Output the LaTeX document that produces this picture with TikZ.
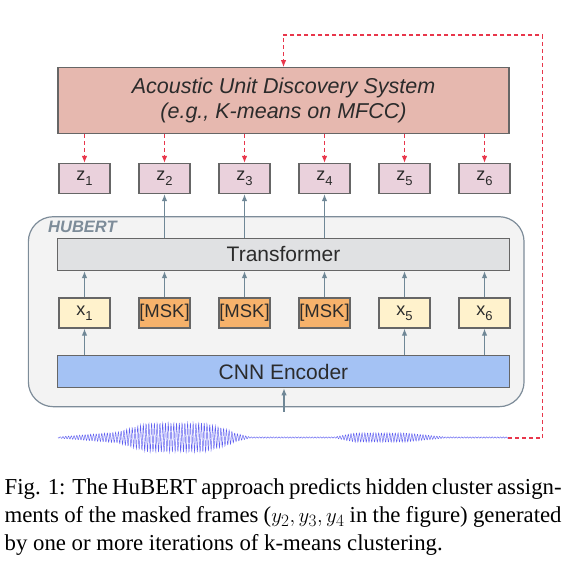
\documentclass[tikz,border=0pt]{standalone}
\usepackage{fontspec}
\setmainfont{Liberation Serif}
\setsansfont{Liberation Sans}
\usepackage{xcolor}
\usepackage{tikz}
\usetikzlibrary{arrows.meta,positioning,calc}

\definecolor{audsfill}{HTML}{E6B8AF}
\definecolor{zfill}{HTML}{EAD1DC}
\definecolor{hubfill}{HTML}{F3F3F3}
\definecolor{hubline}{HTML}{7D8C99}
\definecolor{trfill}{HTML}{E0E1E3}
\definecolor{xfill}{HTML}{FFF2CC}
\definecolor{mskfill}{HTML}{F6B26B}
\definecolor{cnnfill}{HTML}{A4C2F4}
\definecolor{boxline}{HTML}{666666}
\definecolor{uparrow}{HTML}{6F8796}
\definecolor{redline}{HTML}{E8364B}
\definecolor{wavecol}{HTML}{6060F0}
\definecolor{txt}{HTML}{2B2B2B}

\newcommand{\zsub}[1]{\raisebox{-5pt}{\fontsize{13}{13}\selectfont #1}}

\tikzset{
    >={Latex[length=7pt,width=5.5pt]},
    block/.style={
        rectangle,
        draw=boxline, line width=1.2pt,
        text=txt,
        inner sep=0pt,
        font=\sffamily\fontsize{21}{24}\selectfont
    },
    token/.style={
        block,
        minimum width=51pt,
        minimum height=30pt,
        font=\sffamily\fontsize{18}{20}\selectfont
    },
    ztoken/.style={token, fill=zfill},
    xtoken/.style={token, fill=xfill},
    msktoken/.style={token, fill=mskfill, font=\sffamily\fontsize{18.5}{20}\selectfont},
    wide/.style={block, minimum width=452pt, minimum height=32pt},
    up/.style={->, draw=uparrow, line width=1.2pt},
    target/.style={->, draw=redline, line width=1.1pt, dash pattern=on 4pt off 3pt},
    wave/.style={draw=wavecol, line width=0.45pt},
    caption/.style={anchor=base west, inner sep=0pt, font=\fontsize{22.8}{27}\selectfont},
}

\begin{document}
\begin{tikzpicture}
[
    x=1pt, y=-1pt,
    declare function={wamp(\t)=0.6+5*max(0,min((\t-58)/62,(250-\t)/20,1))
        +9*max(0,min((\t-118)/30,(235-\t)/30,1))
        +4*max(0,min((\t-335)/20,(445-\t)/40,1));},
]
\useasboundingbox (0,0) rectangle (569,561);
% HuBERT frame
\node(hubert) at (276.2,311.7)[rectangle, rounded corners=25pt, draw=hubline, fill=hubfill,
    line width=1.2pt, minimum width=495.7pt, minimum height=190pt]{};
\node(hubtag) at (48,232)[anchor=base west, inner sep=0pt, text=hubline,
    font=\sffamily\bfseries\itshape\fontsize{16.5}{17}\selectfont]{HUBERT};

\node(auds) at (283.5,100.5)[block, fill=audsfill, minimum width=451pt, minimum height=65.5pt,
    align=center, font=\sffamily\itshape\fontsize{21.5}{25.5}\selectfont]
    {Acoustic Unit Discovery System\\(e.g., K-means on MFCC)};

\node(z1) at (84.5,178.5)[ztoken]{z\zsub{1}};
\node(z2) at (164.5,178.5)[ztoken]{z\zsub{2}};
\node(z3) at (244.5,178.5)[ztoken]{z\zsub{3}};
\node(z4) at (324.5,178.5)[ztoken]{z\zsub{4}};
\node(z5) at (404.5,178.5)[ztoken]{z\zsub{5}};
\node(z6) at (484.5,178.5)[ztoken]{z\zsub{6}};

\node(trans) at (283.5,254.5)[wide, fill=trfill]{Transformer};

\node(x1) at (84.5,313)[xtoken]{x\zsub{1}};
\node(m2) at (164.5,313)[msktoken]{[MSK]};
\node(m3) at (244.5,313)[msktoken]{[MSK]};
\node(m4) at (324.5,313)[msktoken]{[MSK]};
\node(x5) at (404.5,313)[xtoken]{x\zsub{5}};
\node(x6) at (484.5,313)[xtoken]{x\zsub{6}};

\node(cnn) at (283.5,371.7)[wide, fill=cnnfill]{CNN Encoder};

% targets from the clustering step
\draw[target] (auds.south -| z1) -- (z1.north);
\draw[target] (auds.south -| z2) -- (z2.north);
\draw[target] (auds.south -| z3) -- (z3.north);
\draw[target] (auds.south -| z4) -- (z4.north);
\draw[target] (auds.south -| z5) -- (z5.north);
\draw[target] (auds.south -| z6) -- (z6.north);

\draw[up] (trans.north -| z2) -- (z2.south);
\draw[up] (trans.north -| z3) -- (z3.south);
\draw[up] (trans.north -| z4) -- (z4.south);

\draw[up] (x1.north) -- (trans.south -| x1);
\draw[up] (m2.north) -- (trans.south -| m2);
\draw[up] (m3.north) -- (trans.south -| m3);
\draw[up] (m4.north) -- (trans.south -| m4);
\draw[up] (x5.north) -- (trans.south -| x5);
\draw[up] (x6.north) -- (trans.south -| x6);

\draw[up] (cnn.north -| x1) -- (x1.south);
\draw[up] (cnn.north -| x5) -- (x5.south);
\draw[up] (cnn.north -| x6) -- (x6.south);

% waveform and feedback loop
\coordinate(wavein) at (284,411.7);
\coordinate(waveend) at (508,438);
\coordinate(loopturn) at (542.7,35);
\draw[up] (wavein) -- (cnn.south -| wavein);
\draw[wave, domain=58:508, samples=1500] plot (\x, {437.5+wamp(\x)*sin(mod(\x,36)*130)});
\draw[target] (waveend) -| (loopturn) -| (auds.north);

% caption
\node(cap1) at (4.4,494.5)[caption]
    {\makebox[557pt][s]{Fig. 1: The HuBERT approach predicts hidden cluster assign-}};
\node(cap2) at (4.4,522.5)[caption]
    {\makebox[557pt][s]{ments of the masked frames ($y_2, y_3, y_4$ in the figure) generated}};
\node(cap3) at (4.4,550)[caption]
    {by one or more iterations of k-means clustering.};
\end{tikzpicture}
\end{document}
